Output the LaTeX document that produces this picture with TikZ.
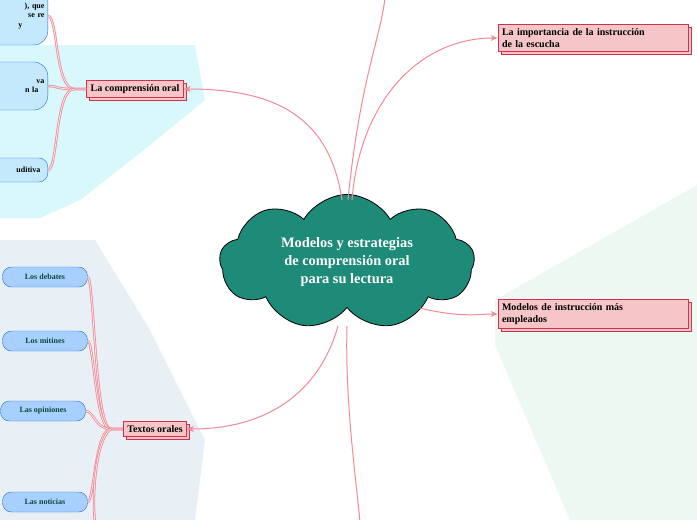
\documentclass[tikz,border=0pt]{standalone}
\usepackage{fontspec}
\setmainfont{Liberation Serif}
\usetikzlibrary{shapes.symbols,arrows.meta,shadows}
\definecolor{teal1}{HTML}{1E8A78}
\definecolor{pinkf}{HTML}{F5C5C8}
\definecolor{pinkd}{HTML}{D0304A}
\definecolor{link}{HTML}{F08A98}
\definecolor{bluef}{HTML}{A8D0FF}
\definecolor{bluef2}{HTML}{C4E8FC}
\definecolor{blued}{HTML}{2070D0}
\definecolor{bgc}{HTML}{D8F8FC}
\definecolor{bgg}{HTML}{E8F0F6}
\definecolor{bgn}{HTML}{EEF8F2}
\begin{document}
\begin{tikzpicture}[x=1pt,y=-1pt,
 main/.style={draw=pinkd,fill=pinkf,line width=0.8pt,font=\bfseries,inner sep=4pt,
   copy shadow={shadow xshift=3pt,shadow yshift=-3pt,draw=pinkd,fill=pinkf}},
 sub/.style={draw=blued,fill=bluef,rounded corners=9pt,font=\bfseries\footnotesize,text=teal1!50!black,minimum height=20pt,minimum width=85pt},
 sub2/.style={draw=blued,fill=bluef2,rounded corners=14pt,font=\bfseries\footnotesize,text=black,text width=112pt,align=right},
 con/.style={link,line width=1pt,-{Stealth[length=7pt,width=6pt]}},
 br/.style={link,line width=0.8pt,double=pink!40,double distance=0.8pt}]
\useasboundingbox (0,0) rectangle (697,520);
\fill[white] (0,0) rectangle (697,520);
% background regions
\fill[bgc] (50,45) -- (195,45) -- (205,100) -- (150,145) -- (80,200) -- (40,218) -- (0,218) -- (0,45) -- cycle;
\fill[bgg] (0,240) -- (95,240) -- (150,330) -- (205,440) -- (195,520) -- (0,520) -- cycle;
\fill[bgn] (495,300) -- (697,185) -- (697,520) -- (570,520) -- (495,345) -- cycle;
% cloud
\node[cloud,cloud puffs=9,cloud puff arc=120,aspect=1.9,draw=black,fill=teal1,line width=0.8pt,
  minimum width=255pt,minimum height=135pt,text=white,font=\bfseries\Large,align=center,inner sep=0pt] (c) at (347,262)
  {Modelos y estrategias\\de comprensión oral\\para su lectura};
% main nodes
\node[main] (co) at (135,89) {La comprensión oral};
\node[main] (to) at (155,429) {Textos orales};
\node[main,align=left,text width=182pt] (im) at (593,38) {La importancia de la instrucción\\de la escucha};
\node[main,align=left,text width=182pt] (mo) at (593,314) {Modelos de instrucción más\\empleados};
\coordinate (tp) at (385,-2);
\coordinate (bt) at (360,522);
\coordinate (bl) at (95,522);
\coordinate (s1) at (342,200);
\coordinate (s2) at (352,200);
\coordinate (s3) at (338,326);
\coordinate (s4) at (420,308);
\coordinate (s5) at (348,200);
\coordinate (s6) at (347,326);
% connectors
\draw[con] (s1) .. controls (330,120) and (280,89) .. (co.east);
\draw[con] (s3) .. controls (320,390) and (270,429) .. (to.east);
\draw[con] (s2) .. controls (360,100) and (420,38) .. (im.west);
\draw[con] (s4) .. controls (460,318) and (480,314) .. (mo.west);
\draw[link,line width=1pt] (s5) .. controls (360,80) and (380,40) .. (tp);
\draw[link,line width=1pt] (s6) .. controls (345,400) and (355,470) .. (bt);
% sub nodes of Textos orales
\node[sub] (d) at (45,277) {Los debates};
\node[sub] (m) at (45,341) {Los mitines};
\node[sub] (o) at (43,411) {Las opiniones};
\node[sub] (n) at (45,502) {Las noticias};
\foreach \s in {d,m,o,n} \draw[br] (to.west) -- ++(-12,0) .. controls (95,429) and (94,0 |- \s.east) .. (\s.east);
\draw[br] (to.west) -- ++(-12,0) .. controls (95,440) and (92,500) .. (bl);
% sub nodes of comprension oral (clipped)
\node[sub2,minimum height=58pt,anchor=east] (a1) at (48,16) {), que\\se re\\y\hspace*{22pt}};
\node[sub2,minimum height=48pt,anchor=east] (a2) at (48,86) {va\hspace*{8pt}\\n la\hspace*{6pt}};
\node[sub2,minimum height=24pt,anchor=east,rounded corners=9pt] (a3) at (48,170) {uditiva\hspace*{4pt}};
\foreach \s in {a1,a2,a3} \draw[br] (co.west) -- ++(-12,0) .. controls (55,89) and (58,0 |- \s.east) .. (\s.east);
\end{tikzpicture}
\end{document}
